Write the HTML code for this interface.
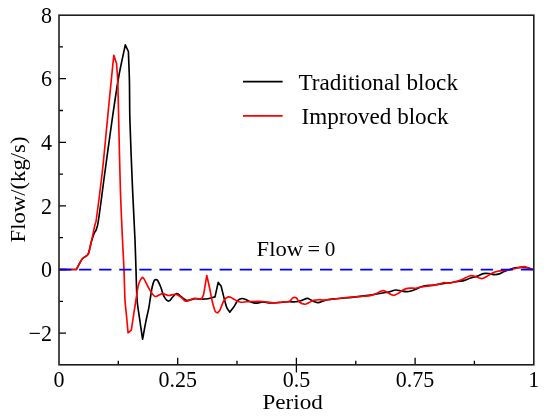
<!DOCTYPE html>
<html><head><meta charset="utf-8"><title>Flow chart</title>
<style>html,body{margin:0;padding:0;background:#fff;width:550px;height:419px;overflow:hidden}svg{display:block}</style></head><body>
<svg width="550" height="419" viewBox="0 0 550 419" font-family="'Liberation Serif', serif">
<rect width="550" height="419" fill="#fff"/>
<path d="M59.00,269.50 L76.30,269.50 C78.15,266.17 79.80,262.58 81.90,259.40 C82.50,258.48 83.54,257.88 84.40,257.20 C85.39,256.42 86.62,255.90 87.50,255.00 C88.08,254.41 88.47,253.59 88.70,252.80 C89.70,249.38 90.23,245.73 91.20,242.30 C92.08,239.19 93.09,236.00 94.30,233.00 C94.75,231.89 95.80,231.03 96.20,229.90 C97.10,227.37 97.80,224.66 98.20,222.00 C100.64,205.87 102.60,189.17 104.80,173.00 C106.96,157.16 109.12,140.83 111.40,125.00 C113.64,109.47 115.82,93.46 118.50,78.00 C120.41,66.98 123.06,55.76 125.30,44.80 L128.40,51.50 C128.73,60.91 129.19,70.59 129.40,80.00 C129.69,93.20 129.52,106.80 129.90,120.00 C130.57,143.11 131.62,166.90 132.60,190.00 C133.30,206.50 134.30,223.50 135.00,240.00 C135.42,249.90 135.65,260.10 136.00,270.00 C136.35,279.90 136.44,290.12 137.10,300.00 C137.43,304.85 138.32,309.79 139.00,314.60 C140.14,322.72 141.41,331.08 142.60,339.20 C143.62,333.62 144.60,327.86 145.70,322.30 C146.68,317.33 147.96,312.27 148.90,307.30 C149.54,303.92 149.95,300.39 150.50,297.00 C151.07,293.53 151.52,289.93 152.30,286.50 C152.78,284.40 153.31,282.21 154.30,280.30 C154.57,279.79 155.32,279.60 155.90,279.60 C156.48,279.60 157.19,279.81 157.50,280.30 C158.91,282.52 159.91,285.07 160.90,287.50 C162.09,290.42 162.55,293.76 164.10,296.50 C165.15,298.35 166.48,300.98 168.60,301.10 C170.51,301.21 171.29,298.29 172.70,297.00 C174.00,295.81 175.05,293.71 176.80,293.60 C178.45,293.50 179.57,295.51 180.90,296.50 C182.11,297.40 183.25,298.47 184.50,299.30 C185.24,299.79 186.02,300.43 186.90,300.50 C188.11,300.60 189.32,300.05 190.50,299.80 C191.96,299.49 193.41,298.89 194.90,298.80 C197.31,298.66 199.79,299.12 202.20,299.10 C204.12,299.09 206.11,299.02 208.00,298.70 C210.35,298.30 212.69,297.49 215.00,296.90 L218.20,282.40 L221.10,286.00 C222.29,290.79 223.43,295.74 224.70,300.50 C225.35,302.93 225.89,305.49 226.90,307.80 C227.59,309.39 228.84,310.75 229.80,312.20 C231.25,310.29 232.86,308.39 234.20,306.40 C235.40,304.62 236.18,302.49 237.50,300.80 C238.13,300.00 239.08,299.42 240.00,299.00 C240.76,298.65 241.66,298.45 242.50,298.50 C243.36,298.55 244.20,298.98 245.00,299.30 C246.18,299.77 247.32,300.43 248.50,300.90 C250.29,301.62 252.11,302.52 254.00,302.90 C255.42,303.19 256.96,303.07 258.40,302.90 C259.85,302.73 261.24,301.89 262.70,301.90 C265.10,301.92 267.50,302.91 269.90,303.00 C272.77,303.11 275.73,302.68 278.60,302.50 C281.97,302.29 285.43,301.93 288.80,301.80 C291.21,301.70 293.70,302.06 296.10,301.80 C298.06,301.59 300.02,300.97 301.90,300.40 C303.72,299.85 305.40,298.51 307.30,298.40 C308.59,298.33 309.74,299.35 310.90,299.90 C312.11,300.47 313.24,301.33 314.50,301.80 C315.67,302.23 316.95,302.69 318.20,302.60 C319.75,302.49 321.22,301.67 322.70,301.20 C324.22,300.72 325.73,299.99 327.30,299.70 C330.27,299.16 333.39,299.00 336.40,298.70 C342.07,298.14 347.93,297.69 353.60,297.10 C358.42,296.60 363.39,296.06 368.20,295.40 C371.09,295.00 374.03,294.38 376.90,293.90 C379.77,293.42 382.73,292.96 385.60,292.50 C386.85,292.30 388.17,292.20 389.40,291.90 C391.57,291.37 393.67,290.19 395.90,290.00 C397.60,289.85 399.31,290.65 401.00,290.90 C402.91,291.18 404.87,291.54 406.80,291.60 C407.86,291.64 408.97,291.49 410.00,291.20 C412.19,290.59 414.38,289.73 416.50,288.90 C418.34,288.18 420.12,287.13 422.00,286.50 C423.41,286.03 424.93,285.80 426.40,285.60 C428.07,285.37 429.82,285.39 431.50,285.20 C434.15,284.90 436.86,284.46 439.50,284.10 C441.65,283.80 443.85,283.47 446.00,283.20 C447.98,282.95 450.02,282.77 452.00,282.50 C454.65,282.14 457.37,281.74 460.00,281.30 C461.49,281.05 463.05,280.84 464.50,280.40 C466.36,279.84 468.16,278.91 470.00,278.30 C472.45,277.49 475.07,276.96 477.50,276.10 C479.47,275.41 481.26,274.04 483.30,273.60 C485.17,273.20 487.19,273.44 489.10,273.60 C491.04,273.77 492.96,274.54 494.90,274.60 C496.37,274.64 497.91,274.36 499.30,273.90 C500.81,273.40 502.14,272.33 503.60,271.70 C505.51,270.88 507.53,270.16 509.50,269.50 C511.39,268.87 513.34,268.16 515.30,267.80 C517.19,267.46 519.18,267.40 521.10,267.40 C523.02,267.40 525.01,267.48 526.90,267.80 C528.39,268.05 529.85,268.67 531.30,269.10 C531.76,269.24 532.24,269.37 532.70,269.50" fill="none" stroke="#000" stroke-width="1.65" stroke-linejoin="round"/>
<path d="M59.00,269.50 L76.30,269.50 C78.15,266.17 79.80,262.58 81.90,259.40 C82.50,258.48 83.54,257.88 84.40,257.20 C85.39,256.42 86.62,255.90 87.50,255.00 C88.08,254.41 88.47,253.59 88.70,252.80 C89.70,249.38 90.40,245.77 91.20,242.30 C91.86,239.44 92.49,236.47 93.10,233.60 C93.71,230.76 94.23,227.82 94.90,225.00 C95.22,223.66 95.91,222.36 96.10,221.00 C98.35,204.86 100.48,188.20 102.30,172.00 C104.04,156.51 105.38,140.51 106.90,125.00 C108.42,109.49 109.96,93.51 111.50,78.00 C112.24,70.51 113.04,62.79 113.80,55.30 L116.50,63.40 C116.90,68.88 117.49,74.51 117.70,80.00 C118.21,93.19 118.38,106.80 118.70,120.00 C119.27,143.10 119.67,166.90 120.40,190.00 C120.92,206.51 121.76,223.50 122.50,240.00 C122.95,249.90 123.59,260.10 124.00,270.00 C124.41,279.90 124.49,290.11 125.00,300.00 C125.22,304.20 125.80,308.51 126.20,312.70 C126.83,319.33 127.47,326.17 128.10,332.80 L131.30,330.10 C132.88,319.84 134.50,309.26 136.10,299.00 C136.78,294.64 137.28,290.11 138.20,285.80 C138.57,284.09 139.31,282.41 140.00,280.80 C140.27,280.16 140.65,279.53 141.10,279.00 C141.58,278.43 142.15,277.12 142.80,277.50 C144.16,278.29 144.62,280.13 145.40,281.50 C146.31,283.10 147.02,284.88 147.90,286.50 C148.81,288.18 149.69,289.95 150.80,291.50 C152.04,293.23 153.04,295.56 155.00,296.40 C156.29,296.95 157.69,295.48 159.00,295.00 C160.23,294.55 161.40,293.53 162.70,293.60 C164.62,293.70 166.28,295.39 168.20,295.50 C170.31,295.63 172.39,294.49 174.50,294.30 C175.43,294.22 176.46,294.29 177.30,294.70 C178.93,295.51 180.36,296.78 181.80,297.90 C183.07,298.89 183.98,300.55 185.50,301.10 C186.60,301.50 187.88,300.85 189.00,300.50 C190.77,299.95 192.36,298.61 194.20,298.40 C196.61,298.13 199.09,298.87 201.50,299.10 L203.60,294.70 L206.80,275.50 C207.69,279.46 208.66,283.53 209.50,287.50 C210.51,292.27 211.25,297.26 212.40,302.00 C213.17,305.19 213.91,308.53 215.30,311.50 C215.66,312.28 216.77,312.44 217.50,312.90 C218.19,312.17 219.13,311.59 219.60,310.70 C221.30,307.45 222.03,303.59 224.00,300.50 C225.01,298.92 226.58,297.34 228.40,296.90 C229.86,296.55 231.35,297.74 232.70,298.40 C234.14,299.10 235.35,300.33 236.80,301.00 C238.08,301.59 239.50,302.08 240.90,302.20 C242.71,302.35 244.58,301.92 246.40,301.80 C248.18,301.69 250.02,301.53 251.80,301.50 C255.40,301.43 259.11,301.27 262.70,301.50 C266.32,301.73 269.97,302.81 273.60,302.90 C276.49,302.97 279.43,302.29 282.30,302.00 C284.68,301.76 287.28,302.18 289.50,301.30 C290.93,300.73 291.49,298.85 292.70,297.90 C293.19,297.52 293.88,297.40 294.50,297.40 C295.15,297.40 295.93,297.45 296.40,297.90 C297.60,299.05 297.98,301.00 299.30,302.00 C300.83,303.16 302.78,304.10 304.70,304.20 C306.25,304.28 307.67,303.11 309.10,302.50 C310.61,301.86 312.02,300.84 313.60,300.40 C315.36,299.91 317.27,299.75 319.10,299.70 C320.59,299.66 322.11,300.10 323.60,300.10 C324.83,300.10 326.08,299.83 327.30,299.70 C330.30,299.37 333.40,299.05 336.40,298.70 C339.70,298.32 343.09,297.80 346.40,297.50 C351.18,297.07 356.12,296.94 360.90,296.50 C364.74,296.15 368.74,295.96 372.50,295.10 C374.57,294.63 376.45,293.34 378.40,292.50 C379.81,291.89 381.16,290.75 382.70,290.70 C384.23,290.65 385.70,291.57 387.10,292.20 C389.11,293.10 390.81,295.06 393.00,295.30 C394.79,295.49 396.52,294.25 398.10,293.40 C400.14,292.29 401.79,290.37 403.90,289.40 C405.68,288.58 407.75,288.30 409.70,288.10 C411.60,287.90 413.59,288.39 415.50,288.20 C417.32,288.02 419.10,287.29 420.90,287.00 C424.48,286.43 428.22,286.15 431.80,285.60 C433.99,285.26 436.23,284.77 438.40,284.30 C439.27,284.11 440.16,283.88 441.00,283.60 C441.94,283.29 442.81,282.62 443.80,282.50 C444.86,282.38 445.94,282.80 447.00,282.90 C447.99,283.00 449.02,283.25 450.00,283.10 C451.96,282.81 453.91,282.17 455.80,281.60 C457.97,280.95 460.19,280.23 462.30,279.40 C463.56,278.90 464.76,278.15 466.00,277.60 C467.60,276.89 469.16,275.74 470.90,275.60 C472.62,275.46 474.33,276.34 476.00,276.80 C477.93,277.33 479.80,278.60 481.80,278.60 C483.37,278.60 484.81,277.53 486.20,276.80 C488.19,275.75 489.96,274.17 492.00,273.20 C493.82,272.34 495.83,271.69 497.80,271.30 C500.63,270.73 503.64,270.69 506.50,270.30 C508.46,270.03 510.47,269.71 512.40,269.30 C514.33,268.89 516.27,268.25 518.20,267.80 C520.10,267.36 522.05,266.60 524.00,266.60 C525.51,266.60 526.97,267.32 528.40,267.80 C529.85,268.28 531.28,268.94 532.70,269.50" fill="none" stroke="#f00" stroke-width="1.65" stroke-linejoin="round"/>
<path d="M177.7,364.8 V357.8 M296.4,364.8 V357.8 M415.1,364.8 V357.8 M118.3,364.8 V360.8 M237.0,364.8 V360.8 M355.8,364.8 V360.8 M474.4,364.8 V360.8 M59.0,333.1 H66.0 M59.0,269.5 H66.0 M59.0,205.9 H66.0 M59.0,142.3 H66.0 M59.0,78.7 H66.0 M59.0,301.3 H63.0 M59.0,237.7 H63.0 M59.0,174.1 H63.0 M59.0,110.5 H63.0 M59.0,46.9 H63.0 M296.4,364.8 V372.4" stroke="#000" stroke-width="1.3" fill="none"/>
<line x1="59.0" y1="269.5" x2="533.8" y2="269.5" stroke="#00f" stroke-width="1.75" stroke-dasharray="12.3 7.78"/>
<rect x="59.0" y="15.2" width="474.8" height="349.6" fill="none" stroke="#1e1e1e" stroke-width="1.6"/>
<g font-size="22" fill="#000">
<text transform="translate(52,22.7) scale(1,1.05)" text-anchor="end">8</text>
<text transform="translate(52,86.3) scale(1,1.05)" text-anchor="end">6</text>
<text transform="translate(52,149.9) scale(1,1.05)" text-anchor="end">4</text>
<text transform="translate(52,213.5) scale(1,1.05)" text-anchor="end">2</text>
<text transform="translate(52,277.1) scale(1,1.05)" text-anchor="end">0</text>
<text transform="translate(52,340.7) scale(1,1.05)" text-anchor="end">−2</text>
<text transform="translate(59.0,387.2) scale(1,1.05)" text-anchor="middle">0</text>
<text transform="translate(177.7,387.2) scale(1,1.05)" text-anchor="middle">0.25</text>
<text transform="translate(296.4,387.2) scale(1,1.05)" text-anchor="middle">0.5</text>
<text transform="translate(415.1,387.2) scale(1,1.05)" text-anchor="middle">0.75</text>
<text transform="translate(533.8,387.2) scale(1,1.05)" text-anchor="middle">1</text>
</g>
<text x="262.4" y="408.8" font-size="21" textLength="60.4" lengthAdjust="spacingAndGlyphs">Period</text>
<text transform="translate(24.5,189.5) rotate(-90)" font-size="20" text-anchor="middle" textLength="106" lengthAdjust="spacingAndGlyphs">Flow/(kg/s)</text>
<text y="255.5" font-size="21"><tspan x="256.6" textLength="46.4" lengthAdjust="spacingAndGlyphs">Flow</tspan> <tspan x="307.6" textLength="12.6" lengthAdjust="spacingAndGlyphs">=</tspan> <tspan x="324.8" textLength="10.6" lengthAdjust="spacingAndGlyphs">0</tspan></text>
<line x1="243" y1="81.7" x2="282.6" y2="81.7" stroke="#000" stroke-width="1.8"/>
<line x1="243" y1="115.9" x2="282.6" y2="115.9" stroke="#f00" stroke-width="1.8"/>
<text x="298.5" y="89.8" font-size="23" textLength="159.5" lengthAdjust="spacingAndGlyphs">Traditional block</text>
<text x="301.5" y="124" font-size="23" textLength="147" lengthAdjust="spacingAndGlyphs">Improved block</text>
</svg>
</body></html>
